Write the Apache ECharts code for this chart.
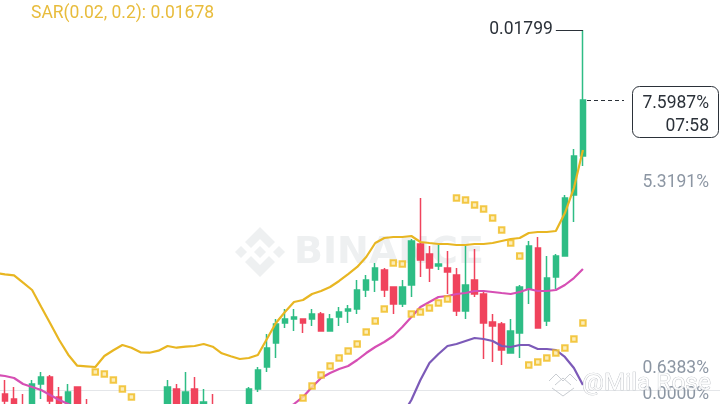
<!DOCTYPE html>
<html>
<head>
<meta charset="utf-8">
<style>
  html, body { margin: 0; padding: 0; background: #fff; }
  #chart-container { width: 720px; height: 404px; }
</style>
<script src="https://cdn.jsdelivr.net/npm/echarts@6/dist/echarts.min.js"></script>
</head>
<body>
<div id="chart-container"></div>
<script>
// all values are percent change from the 0.0000% line
// first slot of every array sits just left of the visible area
const opens = [null,-0.105,-0.236,-0.419,-0.576,0.157,0.341,-0.183,-0.524,0.079,-0.419,
  null,null,null,null,null,null,null,null,
  -0.524,0.026,-0.576,0.026,-0.576,-0.419,null,null,null,
  -0.576,0.026,0.603,1.231,1.755,1.860,1.860,1.860,1.991,1.546,1.913,2.070,2.122,2.620,2.882,3.144,2.699,2.253,2.751,
  3.825,3.563,3.249,3.196,3.013,2.070,2.882,2.515,1.782,1.729,0.969,1.493,2.646,3.720,1.808,2.961,3.511,5.109,6.131];
const closes = [null,-0.288,-0.524,-0.576,0.157,0.341,-0.288,-0.472,-0.052,-0.524,-0.629,
  null,null,null,null,null,null,null,null,
  0.079,-0.524,-0.052,-0.524,-0.314,-0.629,null,null,null,
  0.026,0.524,1.100,1.729,1.860,1.913,1.755,1.991,1.546,1.860,2.044,2.122,2.620,2.882,3.196,2.620,2.253,2.699,3.904,
  3.406,3.196,3.301,3.092,2.070,2.751,2.515,1.755,1.677,1.048,1.546,2.699,3.773,1.624,2.934,3.511,5.030,6.131,7.598];
const lows = [null,-0.472,-0.655,-0.681,-0.681,-0.236,-0.472,-0.576,-0.629,-0.629,-0.734,
  null,null,null,null,null,null,null,null,
  -0.655,-0.629,-0.681,-0.629,-0.681,-0.734,null,null,null,
  -0.734,-0.052,0.472,0.838,1.624,1.546,1.493,1.677,1.546,1.546,1.677,1.755,1.991,2.437,2.568,2.437,1.991,2.175,2.437,
  2.961,2.830,3.144,2.515,1.939,1.860,2.437,0.812,0.734,0.655,0.969,0.838,2.253,1.624,1.677,2.646,3.511,4.402,5.869];
const highs = [null,0.262,0.079,-0.105,0.262,0.472,0.393,0.079,0.157,0.079,-0.236,
  null,null,null,null,null,null,null,null,
  0.262,0.157,0.472,0.341,0.026,-0.105,null,null,null,
  0.079,0.603,1.467,1.860,2.122,2.122,1.860,2.122,2.044,1.991,2.175,2.227,2.882,3.013,3.327,3.196,2.699,2.882,3.956,
  5.030,3.773,3.799,3.642,3.196,3.773,3.694,2.568,1.991,1.782,1.860,2.751,3.904,4.009,3.511,3.563,5.109,6.314,9.433];

const sar = [null,null,null,null,null,null,null,null,null,null,null,
  0.472,0.419,0.262,0.026,-0.183,
  null,null,null,null,null,null,null,null,null,null,null,null,null,null,null,null,null,null,
  -0.210,0.105,0.393,0.629,0.838,1.022,1.205,1.520,1.808,2.122,3.327,3.301,1.991,2.044,2.148,2.279,2.384,
  5.030,4.978,4.847,4.742,4.506,4.192,3.851,3.511,0.655,0.734,0.838,0.969,1.100,1.336,1.755];
const upperBand = [3.060,3.031,3.005,2.811,2.620,2.182,1.748,1.310,0.925,0.637,0.621,0.603,0.891,1.040,1.179,1.108,0.988,0.977,1.030,
  1.153,1.108,1.134,1.153,1.205,1.134,0.962,0.883,0.812,0.838,0.917,1.336,1.755,2.044,2.306,2.358,2.515,2.594,2.699,2.856,
  3.039,3.223,3.485,3.851,3.982,4.009,4.009,4.035,3.878,3.851,3.825,3.825,3.799,3.799,3.825,3.825,3.851,3.904,3.956,3.982,
  4.113,4.140,4.140,4.166,4.637,5.292,6.288];
const midBand = [0.393,0.367,0.314,0.157,0.079,0,-0.131,-0.262,-0.367,-0.524,
  null,null,null,null,null,null,null,null,null,null,null,null,null,null,null,null,null,null,null,null,null,null,
  -0.550,-0.367,-0.183,0.079,0.314,0.445,0.550,0.629,0.786,0.969,1.127,1.258,1.415,1.651,1.913,2.175,2.306,2.437,2.463,2.515,
  2.541,2.594,2.594,2.568,2.541,2.515,2.568,2.646,2.594,2.594,2.620,2.751,2.934,3.170];
const lowerBand = [null,null,null,null,null,null,null,null,null,null,null,null,null,null,null,null,null,null,null,null,null,null,null,
  null,null,null,null,null,null,null,null,null,null,null,null,null,null,null,null,null,null,null,null,null,null,
  -0.655,-0.262,0.262,0.707,0.943,1.153,1.205,1.284,1.362,1.336,1.284,1.153,1.127,1.179,1.179,1.074,1.074,1.048,0.865,0.576,0.131];

const highLabel = "0.01799";
const sarLabel = "SAR(0.02, 0.2): 0.01678";
const lastPct = "7.5987%";
const countdown = "07:58";
const sideLabels = ["5.3191%", "0.6383%", "0.0000%"];

const SLOTS = 81; // room right of the last candle
const LAST = opens.length - 1;
const categories = [];
for (let i = 0; i < SLOTS; i++) categories.push(String(i));

const candleData = opens.map((o, i) => (o === null ? "-" : [o, closes[i], lows[i], highs[i]]));

const GREEN = "#2EBD85";
const RED = "#F0435C";
const FONT = "Roboto";
const TEXT_DY = 2.5;

var dom = document.getElementById("chart-container");
var myChart = echarts.init(dom, null, { renderer: "canvas" });

const label = (text, x, y, fill) => ({
  type: "text", z: 20, silent: true,
  style: { text, x, y: y + TEXT_DY, fill, fontFamily: FONT, fontSize: 17.5, align: "right", verticalAlign: "middle" }
});
const logoPart = (points) => ({
  type: "polygon", z: 0, silent: true,
  shape: { points }, style: { fill: "#EEF0F1" }
});
const tag = (points) => ({
  type: "polyline", z: 30, silent: true,
  shape: { points }, style: { stroke: "#C9CDD2", fill: null, lineWidth: 1 }
});

var option = {
  animation: false,
  backgroundColor: "#fff",
  grid: { left: -8.53, top: 0, width: 731.43, height: 403, outerBoundsMode: "none" },
  xAxis: {
    type: "category",
    data: categories,
    boundaryGap: true,
    axisLine: { show: true, lineStyle: { color: "#E4E6E9", width: 1 } },
    axisTick: { show: false },
    axisLabel: { show: false },
    splitLine: { show: false }
  },
  yAxis: {
    type: "value",
    min: -0.3406,
    max: 10.218,
    show: false,
    splitLine: { show: false }
  },
  series: [
    {
      type: "candlestick",
      data: candleData,
      barWidth: 6,
      z: 2,
      itemStyle: { color: GREEN, color0: RED, borderColor: GREEN, borderColor0: RED, borderWidth: 1.5 },
      markLine: {
        silent: true,
        symbol: "none",
        animation: false,
        lineStyle: { color: "#2B3139", width: 1, type: "solid" },
        label: { show: true, position: "start", formatter: highLabel, color: "#2B3139", fontFamily: FONT, fontSize: 17.5, distance: 3 },
        data: [[{ coord: [LAST - 3.2, 9.433] }, { coord: [LAST, 9.433] }]]
      }
    },
    { type: "line", data: upperBand, symbol: "none", z: 3, lineStyle: { color: "#E8B622", width: 2.2 } },
    { type: "line", data: midBand, symbol: "none", z: 3, lineStyle: { color: "#D64FB4", width: 2.2 } },
    { type: "line", data: lowerBand, symbol: "none", z: 3, lineStyle: { color: "#7C5AB8", width: 2.2 } },
    {
      type: "scatter",
      data: sar,
      symbol: "rect",
      symbolSize: 5.5,
      z: 4,
      itemStyle: { color: "#FBE9A8", borderColor: "#F0BC1E", borderWidth: 2 }
    }
  ],
  graphic: [
    logoPart([[260, 227], [275, 242], [269, 248], [260, 239], [251, 248], [245, 242]]),
    logoPart([[260, 277], [275, 262], [269, 256], [260, 265], [251, 256], [245, 262]]),
    logoPart([[260, 246], [266, 252], [260, 258], [254, 252]]),
    logoPart([[241, 246], [247, 252], [241, 258], [235, 252]]),
    logoPart([[279, 246], [285, 252], [279, 258], [273, 252]]),
    {
      type: "text", z: 0, silent: true,
      style: { text: "BINANCE", x: 294, y: 251 + TEXT_DY, fill: "#EEF0F1", fontFamily: "DejaVu Sans", fontSize: 38, fontWeight: "bold", align: "left", verticalAlign: "middle" }
    },
    {
      type: "text", z: 20, silent: true,
      style: { text: sarLabel, x: 31, y: 11 + TEXT_DY, fill: "#E8BC3C", fontFamily: FONT, fontSize: 17.5, align: "left", verticalAlign: "middle" }
    },
    {
      type: "line", z: 20, silent: true,
      shape: { x1: 587, y1: 100.5, x2: 624, y2: 100.5 },
      style: { stroke: "#2B3139", lineWidth: 1, lineDash: [4, 3] }
    },
    {
      type: "rect", z: 20, silent: true,
      shape: { x: 632.5, y: 86.5, width: 86, height: 51, r: 7 },
      style: { fill: "#fff", stroke: "#2B3139", lineWidth: 1 }
    },
    label(lastPct, 709, 101, "#2B3139"),
    label(countdown, 709, 124, "#2B3139"),
    label(sideLabels[0], 709, 180, "#8C96A3"),
    label(sideLabels[1], 709, 366, "#8C96A3"),
    label(sideLabels[2], 709, 392, "#8C96A3"),
    tag([[549, 381], [556, 374], [563, 381], [570, 374], [577, 381]]),
    tag([[555, 385], [563, 378], [571, 385]]),
    tag([[552, 388], [563, 396], [574, 388]]),
    {
      type: "text", z: 30, silent: true,
      style: { text: "@Mila Rose", x: 582, y: 381 + TEXT_DY, fill: "rgba(255,255,255,0.85)", stroke: "#B5B9BF", lineWidth: 0.7, fontFamily: FONT, fontSize: 24.4, align: "left", verticalAlign: "middle" }
    }
  ]
};

myChart.setOption(option);
window.addEventListener("resize", myChart.resize);
</script>
</body>
</html>
